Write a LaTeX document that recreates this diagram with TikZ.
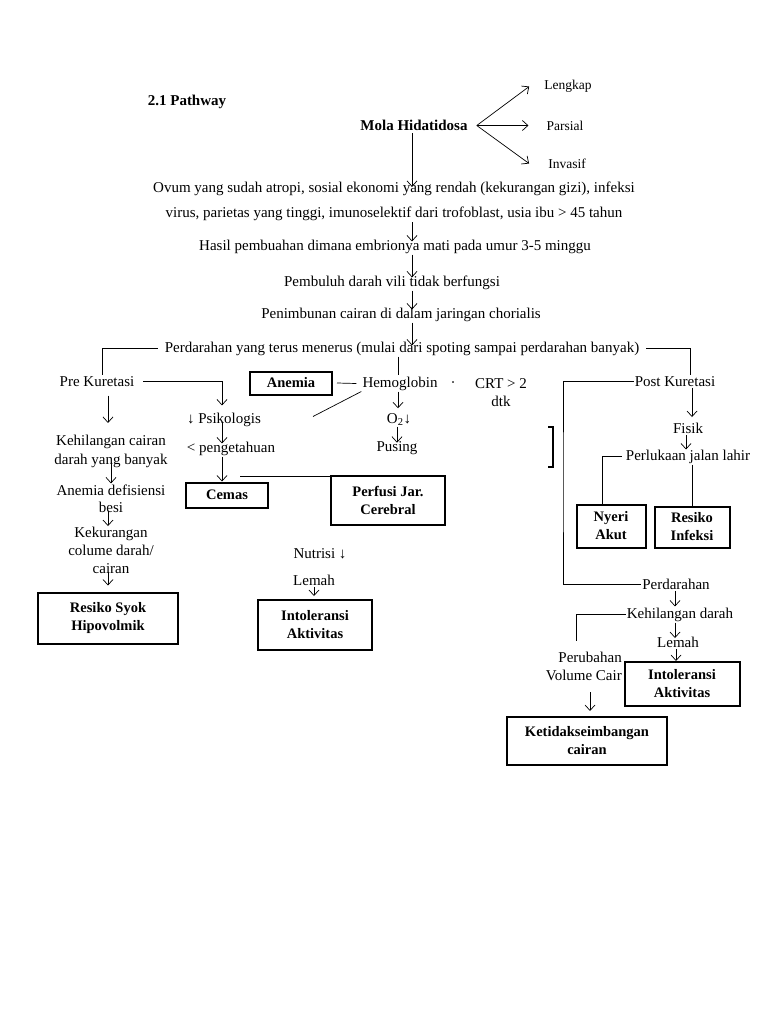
\documentclass[tikz,border=0pt]{standalone}
\usepackage{fontspec}
\setmainfont{Liberation Serif}
\usetikzlibrary{arrows.meta}
\begin{document}
\begin{tikzpicture}[x=1pt,y=-1pt,
  every node/.style={font=\fontsize{15}{18}\selectfont, inner sep=1pt, align=center, yshift=-1.5pt},
  bold/.style={font=\fontsize{15}{18}\selectfont\bfseries},
  small/.style={font=\fontsize{13.5}{16}\selectfont},
  bx/.style={draw, fill=white, line width=2pt, font=\fontsize{14.5}{18}\selectfont\bfseries, inner sep=0pt, yshift=1.5pt},
  arr/.style={-{Straight Barb[length=5.5pt,width=10pt]}, line width=0.7pt},
  ln/.style={line width=0.7pt}]
\fill[white] (0,0) rectangle (768,1024);
\useasboundingbox (0,0) rectangle (768,1024);

% top
\node[bold] (title) at (187,100) {2.1 Pathway};
\node[bold] (mola) at (414,124) {Mola Hidatidosa};
\node[small] (lengkap) at (568,85) {Lengkap};
\node[small] (parsial) at (565,124) {Parsial};
\node[small] (invasif) at (567,162) {Invasif};
\node[font=\fontsize{15}{25}\selectfont] (ovum) at (394,200) {Ovum yang sudah atropi, sosial ekonomi yang rendah (kekurangan gizi), infeksi\\virus, parietas yang tinggi, imunoselektif dari trofoblast, usia ibu > 45 tahun};
\node (hasil) at (395,245) {Hasil pembuahan dimana embrionya mati pada umur 3-5 minggu};
\node (pemb) at (392,281) {Pembuluh darah vili tidak berfungsi};
\node (penim) at (401,313) {Penimbunan cairan di dalam jaringan chorialis};
\node (perd) at (402,347) {Perdarahan yang terus menerus (mulai dari spoting sampai perdarahan banyak)};

% middle
\node (pre) at (97,380) {Pre Kuretasi};
\node (post) at (675,380) {Post Kuretasi};
\node[bx, minimum width=82pt, minimum height=23pt] (anemia) at (291,383) {Anemia};
\node (hemo) at (400,382) {Hemoglobin};
\node (dot) at (453,383) {·};
\node (crt) at (501,391) {CRT > 2\\dtk};
\node (psi) at (224,418) {↓ Psikologis};
\node (o2) at (399,418) {O\textsubscript{2}↓};
\node (peng) at (231,447) {< pengetahuan};
\node (pusing) at (397,447) {Pusing};
\node[font=\fontsize{15}{19}\selectfont] (kehil) at (111,450) {Kehilangan cairan\\darah yang banyak};
\node[bx, minimum width=82pt, minimum height=25pt] (cemas) at (227,495) {Cemas};
\node[bx, minimum width=114pt, minimum height=49pt] (perf) at (388,500) {Perfusi Jar.\\Cerebral};
\node[font=\fontsize{15}{17}\selectfont] (anemdef) at (111,497) {Anemia defisiensi\\besi};
\node (kekur) at (111,549) {Kekurangan\\colume darah/\\cairan};
\node[bx, minimum width=140pt, minimum height=51pt] (syok) at (108,618) {Resiko Syok\\Hipovolmik};
\node (nutrisi) at (320,552) {Nutrisi ↓};
\node (lemah) at (314,579) {Lemah};
\node[bx, minimum width=114pt, minimum height=50pt] (intol) at (315,625) {Intoleransi\\Aktivitas};

% right
\node (fisik) at (688,427) {Fisik};
\node (perlu) at (688,455) {Perlukaan jalan lahir};
\node[bx, minimum width=69pt, minimum height=43pt] (nyeri) at (611,526) {Nyeri\\Akut};
\node[bx, minimum width=75pt, minimum height=41pt] (infeksi) at (692,527) {Resiko\\Infeksi};
\node (perd2) at (676,583) {Perdarahan};
\node (kehil2) at (680,613) {Kehilangan darah};
\node (lemah2) at (678,641) {Lemah};
\node[align=right, anchor=east] (perub) at (623,665) {Perubahan\\Volume Cair};
\node[bx, minimum width=115pt, minimum height=44pt] (intol2) at (682,684) {Intoleransi\\Aktivitas};
\node[bx, minimum width=160pt, minimum height=48pt] (ketidak) at (587,741) {Ketidakseimbangan\\cairan};

% top connectors
\draw[arr] ([xshift=8pt]mola.east) -- ([xshift=-14pt]lengkap.west);
\draw[arr] ([xshift=8pt]mola.east) -- ([xshift=-17pt]parsial.west);
\draw[arr] ([xshift=8pt]mola.east) -- ([xshift=-18pt]invasif.west);
\coordinate (sp) at ([xshift=-2pt]mola.south);
\draw[arr, shorten >=-6pt] (sp) -- (sp |- ovum.north);
\draw[arr, shorten >=-3pt] (sp |- ovum.south) -- (sp |- hasil.north);
\draw[arr, shorten >=-3pt] (sp |- hasil.south) -- (sp |- pemb.north);
\draw[arr, shorten >=-3pt] (sp |- pemb.south) -- (sp |- penim.north);
\draw[arr, shorten >=-5pt] (sp |- penim.south) -- (sp |- perd.north);

% branches
\draw[ln] ([xshift=-6pt]perd.west) -| ([xshift=5pt]pre.north);
\draw[ln] ([xshift=6pt]perd.east) -| ([xshift=15pt]post.north);
\draw[ln] ([xshift=-2pt]hemo.north |- perd.south) -- ([xshift=-2pt]hemo.north);
\draw[ln] ([xshift=4pt]anemia.east) -- ([xshift=-5pt]hemo.west);
\coordinate (hd) at (313,415);
\draw[ln] (hemo.south west) -- (hd);
\draw[arr, shorten >=4pt] ([xshift=-2pt]hemo.south) -- ([xshift=-2pt]hemo.south |- o2.north);
\draw[arr, shorten >=-2pt] ([xshift=-2pt]o2.south) -- ([xshift=-2pt]o2.south |- pusing.north);

\draw[arr, shorten >=6pt] ([xshift=8pt]pre.east) -| ([xshift=-2pt]psi.north);
\draw[arr, shorten <=-6pt, shorten >=-3pt] ([xshift=-2pt]psi.south) -- ([xshift=-2pt]psi.south |- peng.north);
\draw[arr] ([xshift=-5pt]cemas.north |- peng.south) -- ([xshift=-5pt]cemas.north);
\draw[ln] ([shift={(13pt,5.5pt)}]cemas.north) -- ([shift={(-3pt,-1.5pt)}]perf.north);

\draw[arr, shorten <=8pt, shorten >=11pt] ([xshift=11pt]pre.south) -- ([xshift=11pt]pre.south |- kehil.north);
\draw[arr, shorten <=-7pt] (kehil.south) -- (kehil.south |- anemdef.north);
\draw[arr, shorten <=-3pt] ([xshift=-3pt]anemdef.south) -- ([xshift=-3pt]anemdef.south |- kekur.north);
\draw[arr, shorten <=-3pt, shorten >=6pt] ([xshift=-3pt]kekur.south) -- ([xshift=-3pt]kekur.south |- syok.north);
\draw[arr, shorten >=3pt] (lemah.south) -- (lemah.south |- intol.north);

% right connectors
\draw[arr, shorten >=5pt] ([xshift=17pt]post.south) -- ([xshift=17pt]post.south |- fisik.north);
\draw[arr, shorten >=-1pt] ([xshift=-2pt]fisik.south) -- ([xshift=-2pt]fisik.south |- perlu.north);
\coordinate (rail) at (563,480);
\draw[ln] (post.west) -| (rail) |- (perd2.west);
\draw[ln] ([xshift=-3pt]perlu.west) -| ([xshift=-9pt]nyeri.north);
\draw[ln] (infeksi.north |- perlu.south) -- (infeksi.north);
\draw[line width=1.8pt] (548,427) -- (553,427) -- (553,467) -- (548,467);
\draw[arr] ([xshift=-1pt]perd2.south) -- ([xshift=-1pt]perd2.south |- kehil2.north);
\draw[arr, shorten >=-2pt] ([xshift=-5pt]kehil2.south) -- ([xshift=-5pt]kehil2.south |- lemah2.north);
\draw[arr] ([xshift=-2pt]lemah2.south) -- ([xshift=-2pt]lemah2.south |- intol2.north);
\coordinate (pv) at (576,639);
\draw[ln] (kehil2.west) -| (pv);
\draw[arr, shorten <=10pt, shorten >=5pt] ([xshift=3pt]ketidak.north |- perub.south) -- ([xshift=3pt]ketidak.north);
\end{tikzpicture}
\end{document}
